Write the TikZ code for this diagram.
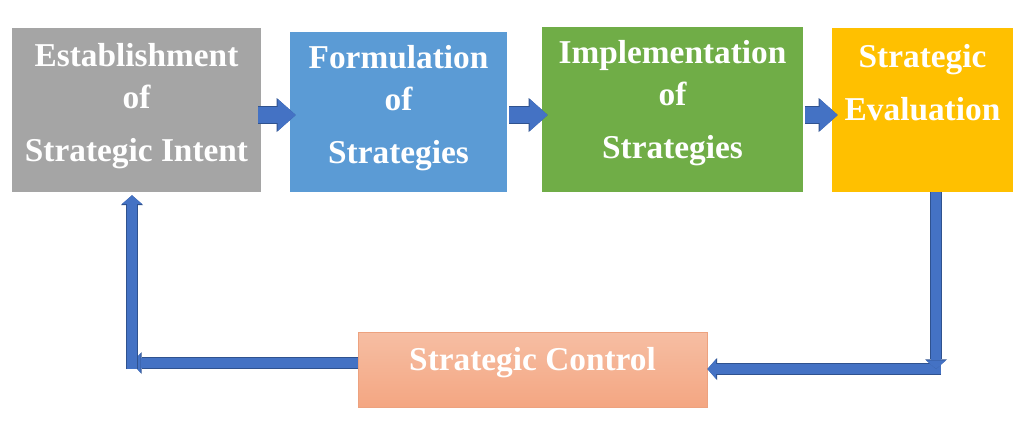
\documentclass[tikz,border=0pt]{standalone}
\usepackage{fontspec}
\setmainfont{Liberation Serif}
\usetikzlibrary{arrows.meta}
\definecolor{cgray}{HTML}{A5A5A5}
\definecolor{cblue}{HTML}{5B9BD5}
\definecolor{cgreen}{HTML}{70AD47}
\definecolor{cyellow}{HTML}{FFC000}
\definecolor{ctop}{HTML}{F6BEA3}
\definecolor{cbot}{HTML}{F4A682}
\definecolor{cedge}{HTML}{EDA27F}
\definecolor{carrow}{HTML}{4472C4}
\definecolor{carrowdk}{HTML}{2F528F}
\tikzset{
  box/.style={rectangle, inner sep=0pt, text=white, align=center,
    font=\fontsize{25}{31.5}\selectfont\bfseries},
  fatarrow/.style={draw=carrow, line width=12pt,
    -{Triangle[width=24pt,length=13.5pt,line width=0pt]},
    preaction={draw=carrowdk, line width=13pt, -{Triangle[width=25.5pt,length=14.3pt,line width=0pt]}}},
  thinarrow/.style={draw=carrow, line width=7.5pt,
    -{Triangle[width=15pt,length=6.5pt,line width=0pt]},
    preaction={draw=carrowdk, line width=8.5pt, -{Triangle[width=16.5pt,length=7.3pt,line width=0pt]}}},
}
\begin{document}
\begin{tikzpicture}[x=0.75pt,y=-0.75pt]
\useasboundingbox (0,0) rectangle (1024,426);
\fill[white] (0,0) rectangle (1024,426);
\node[box, fill=cgray, minimum width=186.75pt, minimum height=123pt, text depth=11.5pt] (b1) at (136.5,110)
  {Establishment\\of\\[8.25pt]Strategic Intent};
\node[box, fill=cblue, minimum width=162.75pt, minimum height=120pt, text depth=11.5pt] (b2) at (398.5,112)
  {Formulation\\of\\[8.25pt]Strategies};
\node[box, fill=cgreen, minimum width=195.75pt, minimum height=123.75pt, text depth=15.5pt] (b3) at (672.5,109.5)
  {Implementation\\of\\[8.25pt]Strategies};
\node[box, fill=cyellow, minimum width=135.75pt, minimum height=123pt, text depth=41pt] (b4) at (922.5,110)
  {Strategic\\[8.25pt]Evaluation};
\node[box, draw=cedge, line width=0.6pt, top color=ctop, bottom color=cbot, minimum width=261.75pt, minimum height=56.25pt, text depth=16pt] (b5) at (532.5,369.5)
  {Strategic Control};
\coordinate (ay) at (0,115);
\coordinate (rc) at (936,369);
\coordinate (rh) at (941,369);
\coordinate (lc) at (132,363);
\coordinate (lv) at (132,369);
\draw[fatarrow] ([xshift=-2.25pt]b1.east |- ay) -- ([xshift=4.5pt]b2.west |- ay);
\draw[fatarrow] ([xshift=1.5pt]b2.east |- ay) -- ([xshift=4.5pt]b3.west |- ay);
\draw[fatarrow] ([xshift=1.5pt]b3.east |- ay) -- ([xshift=4.5pt]b4.west |- ay);
\draw[thinarrow] (rh) -- (b5.east |- rh);
\draw[thinarrow] (b4.south -| rc) -- (rc);
\draw[thinarrow] (b5.west |- lc) -- (lc);
\draw[thinarrow] (lv) -- ([yshift=-2.25pt]b1.south -| lv);
\end{tikzpicture}
\end{document}
